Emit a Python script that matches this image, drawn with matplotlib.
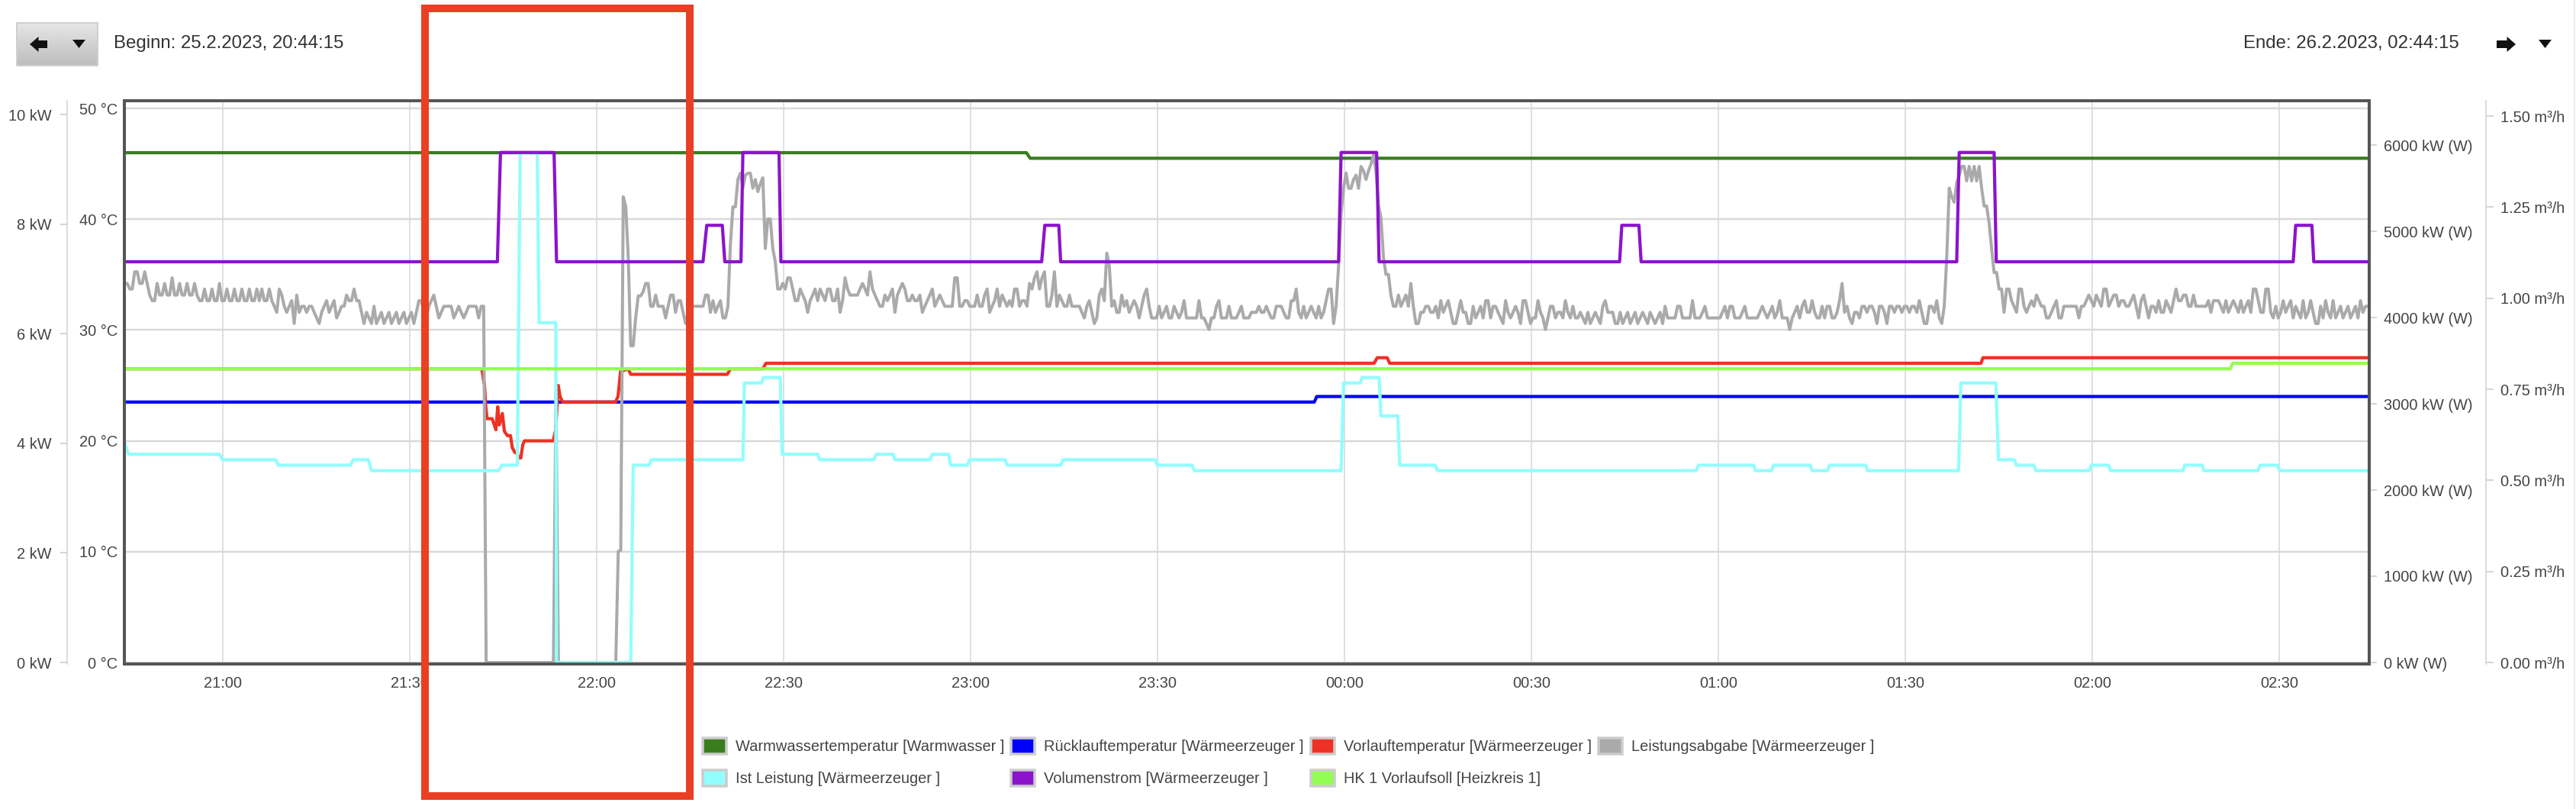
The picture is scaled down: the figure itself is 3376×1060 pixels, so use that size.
import numpy as np
import matplotlib
matplotlib.use("Agg")
import matplotlib.pyplot as plt
from matplotlib.patches import Patch, Rectangle, Polygon
from matplotlib.lines import Line2D

W, H = 3376, 1060
plt.rcParams['font.family'] = ['Liberation Sans', 'DejaVu Sans']

# ---------- data (time = minutes after 25.2.2023 20:44:15) ----------
START_LABEL = "Beginn: 25.2.2023, 20:44:15"
END_LABEL = "Ende: 26.2.2023, 02:44:15"
time_ticks = [15.75, 45.75, 75.75, 105.75, 135.75, 165.75, 195.75, 225.75, 255.75, 285.75, 315.75, 345.75]
time_labels = ["21:00", "21:30", "22:00", "22:30", "23:00", "23:30", "00:00", "00:30", "01:00", "01:30", "02:00", "02:30"]

kw_ticks = [0, 2, 4, 6, 8, 10]
temp_ticks = [0, 10, 20, 30, 40, 50]
watt_ticks = [0, 1000, 2000, 3000, 4000, 5000, 6000]
flow_ticks = [0, 0.25, 0.5, 0.75, 1.0, 1.25, 1.5]

ww_t = [0, 144.7, 145.3, 360]
ww_v = [46, 46, 45.5, 45.5]

ruecklauf_t = [0, 190.9, 191.3, 360]
ruecklauf_v = [23.5, 23.5, 24, 24]

vorlauf_t = [0, 57.3, 57.74, 57.94, 58.14, 58.96, 59.57, 59.86, 60.1, 60.6, 60.92, 61.41, 61.9, 62.2, 62.63, 62.92,
             63.25, 63.57, 63.86, 64.14, 68.76, 69.16, 69.37, 69.57, 69.86, 70.27, 78.76, 79.16, 79.57, 80.8, 81.2,
             96.7, 97.2, 102.4, 102.9, 200.5, 201.0, 202.6, 203.0, 297.9, 298.2, 360]
vorlauf_v = [26.5, 26.5, 25, 23.07, 22, 22, 21, 23.07, 21.44, 22.47, 20.87, 20.47, 20.47, 19.37, 18.94, 18.9,
             18.46, 18.46, 19.6, 20, 20, 21, 23, 25, 24, 23.5, 23.5, 24, 26.25, 26.5, 26,
             26, 26.5, 26.5, 27, 27, 27.5, 27.5, 27, 27, 27.5, 27.5]

soll_t = [0, 337.9, 338.3, 360]
soll_v = [26.5, 26.5, 27, 27]

ist_t = [0, 0.6, 15.2, 15.7, 24.2, 24.65, 36.2, 36.7, 39.1, 39.6, 60, 60.55, 63.0, 63.45, 66.2, 66.5, 69.17, 69.3,
         81.2, 81.6, 84.15, 84.5, 99.2, 99.45, 102.2, 102.5, 105.2, 105.5, 111.2, 111.5, 120.2, 120.6, 123.3, 123.6,
         129.25, 129.6, 132.2, 132.55, 135.2, 135.6, 141.3, 141.6, 150.25, 150.6, 165.4, 165.7, 171.3, 171.65,
         195.2, 195.6, 198.3, 198.55, 201.3, 201.6, 204.3, 204.6, 210.3, 210.7, 252.2, 252.55, 261.4, 261.7,
         264.3, 264.6, 270.5, 270.8, 273.25, 273.6, 279.4, 279.7, 294.3, 294.67, 300.27, 300.7, 303.25, 303.57,
         306.4, 306.7, 315.3, 315.6, 318.35, 318.7, 330.3, 330.6, 333.4, 333.65, 342.35, 342.7, 345.5, 345.8, 360]
ist_v = [4.0, 3.8, 3.8, 3.7, 3.7, 3.6, 3.6, 3.7, 3.7, 3.5, 3.5, 3.6, 3.6, 9.3, 9.3, 6.2, 6.2, 0,
         0, 3.6, 3.6, 3.7, 3.7, 5.1, 5.1, 5.2, 5.2, 3.8, 3.8, 3.7, 3.7, 3.8, 3.8, 3.7,
         3.7, 3.8, 3.8, 3.6, 3.6, 3.7, 3.7, 3.6, 3.6, 3.7, 3.7, 3.6, 3.6, 3.5,
         3.5, 5.1, 5.1, 5.2, 5.2, 4.5, 4.5, 3.6, 3.6, 3.5, 3.5, 3.6, 3.6, 3.5,
         3.5, 3.6, 3.6, 3.5, 3.5, 3.6, 3.6, 3.5, 3.5, 5.1, 5.1, 3.7, 3.7, 3.6,
         3.6, 3.5, 3.5, 3.6, 3.6, 3.5, 3.5, 3.6, 3.6, 3.5, 3.5, 3.6, 3.6, 3.5, 3.5]

flow_t = [0, 59.8, 60.3, 68.9, 69.3, 92.8, 93.4, 95.9, 96.3, 98.9, 99.2, 105.0, 105.3,
          147.15, 147.65, 149.9, 150.2, 194.8, 195.2, 200.9, 201.3, 239.9, 240.25, 243.0, 243.35,
          294.0, 294.4, 300.0, 300.35, 348.0, 348.4, 351.0, 351.3, 360]
flow_v = [1.1, 1.1, 1.4, 1.4, 1.1, 1.1, 1.2, 1.2, 1.1, 1.1, 1.4, 1.4, 1.1,
          1.1, 1.2, 1.2, 1.1, 1.1, 1.4, 1.4, 1.1, 1.1, 1.2, 1.2, 1.1,
          1.1, 1.4, 1.4, 1.1, 1.1, 1.2, 1.2, 1.1, 1.1]

abgabe_w = [
 4395,4395,4330,4330,4530,4530,4395,4395,4530,4395,4260,4195,4195,
 4395,4260,4260,4395,4260,4260,4460,4260,4260,4395,4260,4260,4395,4260,4260,4395,4260,
 4195,4195,4330,4195,4195,4330,4195,4195,4395,4195,4195,4330,4195,4195,4330,4195,4195,4330,4195,4195,4330,4195,4195,4330,4195,4330,4195,4195,
 4330,4195,4130,4060,
 4330,4260,4130,4060,4130,4195,3930,4260,4060,4130,4130,4060,4130,4130,4060,3995,3930,4060,4130,4195,4060,4130,4195,3995,4060,4130,4130,4260,4195,4195,4330,4195,4195,4060,3930,4060,3995,3930,4130,3930,
 3995,4060,3930,3995,4060,3930,3995,4060,3930,3995,4060,3930,3995,4060,3930,4060,4195,4195,4060,3995,4130,4195,4260,4130,3995,4060,4130,4130,4130,4130,3995,4060,4130,4060,3995,4060,4130,4130,4130,4130,3995,4130,4130,
 0,0,0,0,0,0,0,0,0,0,0,0,0,0,0,0,0,0,0,0,0,0,0,0,0,0,0,0,
 3140,0,
 0,0,0,0,0,0,0,0,0,0,0,0,0,0,0,0,0,0,0,0,0,0,0,
 1290,1300,5400,5290,4700,3672,3672,4000,4250,4250,
 4300,4395,4395,4130,4130,4260,4130,4130,4130,3995,4130,4260,4260,4060,4195,4195,4060,3930,4060,4130,4130,4130,4130,4130,4130,4260,4260,4060,4195,4060,4130,4195,3995,3995,4130,
 4850,5283,5283,5600,5673,5500,5650,5673,5673,5500,5600,5460,5550,5620,4800,5142,5142,4800,4646,
 4330,4330,4395,4330,4460,4460,4330,4195,4195,4330,4260,4195,4060,4195,4260,4330,4195,4330,4260,4195,4330,4330,4195,4195,4330,
 4060,4195,4460,4330,4260,4260,4260,4260,4330,4395,4330,4260,4530,4330,4260,4195,4130,4130,4260,4195,4260,4330,4060,4260,4330,4395,4330,4195,4195,4260,4195,4195,4260,4060,4130,4195,4260,4330,4130,4195,4260,4195,4130,4130,4130,4130,4460,4460,4130,4130,4195,4195,4130,4130,4130,4260,4130,4130,4260,4330,4060,4130,4195,4330,4130,4260,4195,4130,4195,4130,4330,4330,4130,4195,4195,4130,4395,4330,4460,4530,4330,4460,4530,4130,4130,4260,4530,4130,4260,4195,4130,4130,4260,4130,4130,4130,4130,4060,3995,4130,4195,4060,3930,3995,4260,4330,4195,
 4746,4600,4130,4195,4060,4060,4260,4130,4195,4060,4130,4195,4130,3995,4130,4260,4330,4130,3995,3995,3995,4130,3995,4060,4130,3995,3995,4130,4060,3995,4060,4195,3995,3995,3995,3995,3995,4195,3995,3995,3930,3860,3995,3995,4130,4195,3995,3995,3995,
 4130,3995,3995,3995,4060,4130,3995,3995,3995,4060,4060,4060,4130,4060,4060,4130,4060,3995,3995,4130,4130,4130,4060,3995,3995,4195,4195,4330,4060,3995,4130,3995,4060,4130,4060,3995,4130,3995,4060,4195,4330,4330,3930,4130,
 4600,5200,5500,5675,5498,5498,5600,5650,5498,5750,5700,5600,5700,5780,5885,5700,5300,5159,4700,4500,4500,
 4260,4130,4130,4260,4130,4195,4260,4130,4395,4130,3930,3930,4060,4060,4130,4130,4060,4060,4130,3995,4195,4060,4130,4195,4060,3930,3930,4060,4195,4060,4060,3930,3930,4130,3995,4060,4130,3995,4195,4195,3995,4130,4130,4060,3995,3930,4195,4060,3995,4060,4130,4060,3930,4195,4195,4060,3930,3995,3995,4195,4060,3995,3860,3995,4130,4130,3995,4060,4060,3995,4195,4060,3995,4130,3995,3995,4060,3995,3930,4060,3930,3995,4060,3995,3930,4130,4195,4060,
 4060,4060,3930,3930,4060,3930,3995,4060,3930,3995,4060,3930,3995,4060,3995,3930,4060,3995,3930,3995,4060,3930,4130,3995,3995,3995,3995,4130,4130,3995,3995,3995,3995,4195,3995,3995,3995,4060,4130,3995,3995,3995,3995,3995,3995,4060,4130,3995,4130,4130,3995,3995,3995,4060,4130,3995,3995,3995,3995,3995,4060,4130,4060,3995,4060,4130,3995,4060,4195,3995,3995,3995,3860,3995,4060,4130,3995,4130,4195,4060,4060,4195,4060,3995,3995,4130,3995,4130,4130,3995,3995,4060,4195,4395,4060,4130,3995,3930,4060,4060,3995,4130,4130,4060,4130,4130,4060,3930,4130,4130,4060,3930,4130,4130,4060,4130,4130,4060,4130,4130,4060,4130,4130,4060,4195,4060,3930,3930,4130,4130,4060,4195,3995,3930,4130,
 4700,5500,5400,5336,5560,5650,5752,5752,5584,5752,5584,5752,5584,5752,5500,5292,5292,5097,4800,4522,4522,
 4330,4330,4060,4330,4330,4195,4130,4060,4330,4330,4130,4060,4130,4195,4130,4260,4195,4130,4130,3995,3995,4060,4130,4195,3995,3995,4130,4130,4130,4130,4130,4130,3995,4130,4130,4195,4260,4195,4130,4260,4195,4130,4330,4330,4130,4195,4260,4260,4130,4195,4195,4130,4130,4195,4260,4130,3995,4195,4260,4130,3995,4130,4130,4060,4195,4060,4060,4195,4130,4060,4195,4330,4195,4195,4260,4260,4130,4130,4260,4130,4130,4130,4130,4130,4195,4060,4195,4195,4195,4130,4060,4195,4060,4130,4195,4130,4060,4195,4060,4130,4195,4060,4330,4330,4195,4060,4060,4330,4330,4060,3995,4130,3995,4060,4195,4060,4130,4195,3995,4130,4060,3995,4195,3995,4060,4195,4060,3930,3930,4130,3995,4195,4060,3995,4195,3995,4060,4130,3995,4060,4130,3995,4060,4130,3995,4195,4060,4130,4130,
]
abgabe_t = np.linspace(0, 360, len(abgabe_w))

legend_labels = ["Warmwassertemperatur [Warmwasser ]", "Ist Leistung [Wärmeerzeuger ]",
                 "Rücklauftemperatur [Wärmeerzeuger ]", "Volumenstrom [Wärmeerzeuger ]",
                 "Vorlauftemperatur [Wärmeerzeuger ]", "HK 1 Vorlaufsoll [Heizkreis 1]",
                 "Leistungsabgabe [Wärmeerzeuger ]"]
legend_colors = ["#397D1F", "#93FDFD", "#0000FF", "#8B14CB", "#EE3124", "#94FD53", "#AAAAAA"]

# ---------- layout helpers ----------
px = 0.72  # points per image pixel at dpi=100
def fx(x): return x / W
def fy(y): return 1 - y / H

fig = plt.figure(figsize=(W / 100, H / 100), dpi=100, facecolor="white")
L, R, T, B = 163, 3105, 132, 870
pos = [fx(L), fy(B), fx(R - L), (B - T) / H]
XLIM = (-0.06, 360.2)
ZERO = 868

ax_t = fig.add_axes(pos, zorder=1)
ax_w = fig.add_axes(pos, zorder=2, sharex=ax_t)
ax_kw = fig.add_axes(pos, zorder=3, sharex=ax_t)
ax_fl = fig.add_axes(pos, zorder=4, sharex=ax_t)
ax_top = fig.add_axes(pos, zorder=5, sharex=ax_t)

def ylim(scale):
    return ((ZERO - B) / scale, (ZERO - T) / scale)

ax_t.set_ylim(*ylim(14.52))
ax_top.set_ylim(*ylim(14.52))
ax_w.set_ylim(*ylim(0.113))
ax_kw.set_ylim(*ylim(71.8))
ax_fl.set_ylim(*ylim(477.3))
ax_t.set_xlim(*XLIM)

TXT = "#444444"
FS = 20 * px
LW = 4.2 * px

for a in (ax_w, ax_kw, ax_fl, ax_top):
    a.patch.set_visible(False)
for a in (ax_t, ax_w, ax_kw, ax_fl, ax_top):
    for s in a.spines.values():
        s.set_visible(False)
    a.tick_params(axis="x", length=0, labelbottom=False)
    a.tick_params(axis="y", left=False, right=False, labelleft=False, labelright=False)

# time axis and grid
ax_t.set_xticks(time_ticks)
ax_t.set_xticklabels(time_labels)
ax_t.tick_params(axis="x", labelbottom=True, length=0, pad=16 * px, labelsize=FS, labelcolor=TXT)
ax_t.xaxis.grid(True, color="#d6d6d6", lw=1.5 * px)
ax_t.set_axisbelow(True)

# °C axis
ax_t.set_yticks(temp_ticks)
ax_t.set_yticklabels([f"{v} °C" for v in temp_ticks])
ax_t.tick_params(axis="y", left=True, length=0, labelleft=True, pad=9 * px, labelsize=FS, labelcolor=TXT)
ax_t.yaxis.grid(True, color="#d8d8d8", lw=2.4 * px)

# kW axis
ax_kw.spines["left"].set_visible(True)
ax_kw.spines["left"].set_position(("outward", (L - 88) * px))
ax_kw.spines["left"].set_color("#d4d4d4")
ax_kw.spines["left"].set_linewidth(1.6 * px)
ax_kw.set_yticks(kw_ticks)
ax_kw.set_yticklabels([f"{v} kW" for v in kw_ticks])
ax_kw.tick_params(axis="y", left=True, labelleft=True, length=9 * px, width=2 * px, color="#d4d4d4",
                  pad=11 * px, labelsize=FS, labelcolor=TXT)

# W axis
ax_w.yaxis.tick_right()
ax_w.set_yticks(watt_ticks)
ax_w.set_yticklabels([f"{v} kW (W)" for v in watt_ticks])
ax_w.tick_params(axis="y", right=True, labelright=True, left=False, labelleft=False, length=10 * px,
                 width=2 * px, color="#d4d4d4", pad=9 * px, labelsize=FS, labelcolor=TXT)

# m³/h axis
ax_fl.yaxis.tick_right()
ax_fl.spines["right"].set_visible(True)
ax_fl.spines["right"].set_position(("outward", (3258 - R) * px))
ax_fl.spines["right"].set_color("#d4d4d4")
ax_fl.spines["right"].set_linewidth(1.6 * px)
ax_fl.set_yticks(flow_ticks)
ax_fl.set_yticklabels([f"{v:.2f} m³/h" for v in flow_ticks])
ax_fl.tick_params(axis="y", right=True, labelright=True, left=False, labelleft=False, length=10 * px,
                  width=2 * px, color="#d4d4d4", pad=9 * px, labelsize=FS, labelcolor=TXT)

# series
kw = dict(lw=LW, solid_joinstyle="round")
ax_t.plot(ww_t, ww_v, color="#397D1F", **kw)
ax_t.plot(ruecklauf_t, ruecklauf_v, color="#0000FF", **kw)
ax_t.plot(vorlauf_t, vorlauf_v, color="#EE3124", **kw)
ax_w.plot(abgabe_t, abgabe_w, color="#AAAAAA", lw=4.0 * px, solid_joinstyle="round")
ax_kw.plot(ist_t, ist_v, color="#93FDFD", **kw)
ax_fl.plot(flow_t, flow_v, color="#8B14CB", **kw)
ax_top.plot(soll_t, soll_v, color="#94FD53", **kw)

# plot frame
for s in ax_top.spines.values():
    s.set_visible(True)
    s.set_color("#555555")
    s.set_linewidth(4 * px)

# legend
handles = [Patch(facecolor=c, edgecolor="#cccccc", linewidth=3.5 * px) for c in legend_colors]
leg = fig.legend(handles, legend_labels, ncols=4, loc="upper left",
                 bbox_to_anchor=(fx(921), fy(967)), frameon=False, fontsize=FS,
                 borderpad=0, borderaxespad=0, handlelength=1.55, handleheight=1.25,
                 handletextpad=0.6, columnspacing=0.45, labelspacing=1.03, labelcolor=TXT)

# header
fig.text(fx(149), fy(57.5), START_LABEL, fontsize=24 * px, color="#333333", va="center", ha="left")
fig.text(fx(3223), fy(57.5), END_LABEL, fontsize=24 * px, color="#333333", va="center", ha="right")

ax_btn = fig.add_axes([fx(22), fy(86), fx(106), 56 / H], zorder=6)
ax_btn.imshow(np.linspace(0.9, 0.74, 64).reshape(-1, 1), cmap="gray", vmin=0, vmax=1, aspect="auto")
ax_btn.set_xticks([]); ax_btn.set_yticks([])
for s in ax_btn.spines.values():
    s.set_color("#cfcfcf"); s.set_linewidth(2 * px)

def poly(pts, color="#111111"):
    fig.add_artist(Polygon([(fx(x), fy(y)) for x, y in pts], closed=True, transform=fig.transFigure,
                           facecolor=color, edgecolor="none", zorder=7))

poly([(39, 58), (50.5, 48), (50.5, 53), (62, 53), (62, 63), (50.5, 63), (50.5, 68)])
poly([(95, 52), (112, 52), (103.5, 63)])
poly([(3297, 58), (3285.5, 48), (3285.5, 53), (3272, 53), (3272, 63), (3285.5, 63), (3285.5, 68)])
poly([(3327, 52), (3344, 52), (3335.5, 63)])

# thin page edge at the right
fig.add_artist(Line2D([fx(3374), fx(3374)], [0, 1], transform=fig.transFigure, color="#e8e8e8", lw=1.5 * px))

# red highlight box
fig.add_artist(Rectangle((fx(557), fy(1043)), fx(904 - 557), (1043 - 11) / H, transform=fig.transFigure,
                         fill=False, edgecolor="#EB3F24", linewidth=10 * px, joinstyle="miter", zorder=20))

fig.savefig("out.png", dpi=100)
